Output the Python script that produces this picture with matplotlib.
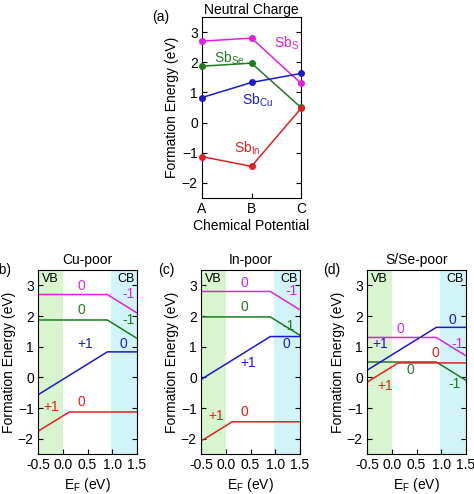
import matplotlib
matplotlib.use("Agg")
import matplotlib.pyplot as plt
import numpy as np

plt.rcParams['font.family'] = ['Liberation Sans', 'DejaVu Sans']
plt.rcParams['mathtext.fontset'] = 'custom'
plt.rcParams['mathtext.rm'] = 'Liberation Sans'

W, H = 474, 494
fig = plt.figure(figsize=(W/100, H/100), dpi=100)

def ax_px(l, t, r, b):
    return fig.add_axes([l/W, 1-b/H, (r-l)/W, (b-t)/H])

# Panel (a) data
chem = ['A', 'B', 'C']
sbS = [2.7, 2.8, 1.3]
sbSe = [1.87, 1.97, 0.5]
sbCu = [0.83, 1.33, 1.63]
sbIn = [-1.13, -1.45, 0.47]
cols = {'S': '#e020e0', 'Se': '#207a20', 'Cu': '#1a1acc', 'In': '#e02020'}

# Transition levels (eV)
trans_S, trans_Se, trans_Cu, trans_In = 0.9, 0.9, 0.9, 0.13

fs = 10
ax = ax_px(202, 17, 301, 198)
x = np.arange(3)
for v, c in [(sbS, cols['S']), (sbSe, cols['Se']), (sbCu, cols['Cu']), (sbIn, cols['In'])]:
    ax.plot(x, v, '-o', color=c, ms=4, lw=1.1, clip_on=False, zorder=3)
ax.set_xlim(0, 2); ax.set_ylim(-2.5, 3.5)
ax.set_xticks(x); ax.set_xticklabels(chem, fontsize=fs)
ax.set_yticks(range(-2, 4)); ax.tick_params(labelsize=fs, direction='in', right=True, top=False, pad=3)
ax.set_ylabel('Formation Energy (eV)', fontsize=fs, labelpad=2)
ax.set_xlabel('Chemical Potential', fontsize=fs, labelpad=2)
ax.set_title('Neutral Charge', fontsize=fs, pad=2)
ax.text(-0.33, 1.0, '(a)', transform=ax.transAxes, fontsize=fs, ha='right', va='center')
ax.text(1.45, 2.5, r'Sb$_{\rm S}$', color=cols['S'], fontsize=fs)
ax.text(0.25, 2.0, r'Sb$_{\rm Se}$', color=cols['Se'], fontsize=fs)
ax.text(0.8, 0.6, r'Sb$_{\rm Cu}$', color=cols['Cu'], fontsize=fs)
ax.text(0.65, -1.0, r'Sb$_{\rm In}$', color=cols['In'], fontsize=fs)

titles = ['Cu-poor', 'In-poor', 'S/Se-poor']
letters = ['(b)', '(c)', '(d)']
lefts = [38, 201, 367]
ef = np.linspace(-0.5, 1.5, 401)

def acc(e0, t):  # 0/-1 acceptor
    return np.where(ef < t, e0, e0 - (ef - t))
def don(e0, t):  # +1/0 donor
    return np.where(ef > t, e0, e0 + (ef - t))

labels = [
    [((0.3, 2.85), (1.2, 2.6)), ((0.3, 2.05), (1.2, 1.75)), ((0.3, 0.95), (1.15, 0.95)), ((-0.4, -1.1), (0.3, -0.95))],
    [((0.3, 2.95), (1.2, 2.7)), ((0.3, 2.15), (1.15, 1.55)), ((0.3, 0.35), (1.15, 0.95)), ((-0.35, -1.4), (0.3, -1.25))],
    [((0.1, 1.45), (1.2, 0.95)), ((0.3, 0.1), (1.15, -0.35)), ((-0.4, 0.95), (1.15, 1.75)), ((-0.3, -0.4), (0.8, 0.65))],
]

for i in range(3):
    a = ax_px(lefts[i], 270, lefts[i] + 99, 454)
    a.axvspan(-0.5, 0.0, color='#d8f5d0', lw=0, zorder=0)
    a.axvspan(0.97, 1.5, color='#d0f4f8', lw=0, zorder=0)
    vals = [sbS[i], sbSe[i], sbCu[i], sbIn[i]]
    a.plot(ef, acc(vals[0], trans_S), color=cols['S'], lw=1.1)
    a.plot(ef, acc(vals[1], trans_Se), color=cols['Se'], lw=1.1)
    a.plot(ef, don(vals[2], trans_Cu), color=cols['Cu'], lw=1.1)
    a.plot(ef, don(vals[3], trans_In), color=cols['In'], lw=1.1)
    a.set_xlim(-0.5, 1.5); a.set_ylim(-2.5, 3.5)
    a.set_xticks([-0.5, 0, 0.5, 1.0, 1.5]); a.set_xticklabels(['-0.5', '0.0', '0.5', '1.0', '1.5'])
    a.set_yticks(range(-2, 4))
    a.tick_params(labelsize=fs, direction='in', right=True, pad=3)
    a.set_xlabel(r'E$_{\rm F}$ (eV)', fontsize=fs, labelpad=3)
    a.set_ylabel('Formation Energy (eV)', fontsize=fs, labelpad=1)
    a.set_title(titles[i], fontsize=fs, pad=4)
    a.text(-0.27, 1.0, letters[i], transform=a.transAxes, fontsize=fs, ha='right', va='center')
    a.text(-0.42, 3.1, 'VB', fontsize=9)
    a.text(1.1, 3.1, 'CB', fontsize=9)
    txt = [('0', '-1'), ('0', '-1'), ('+1', '0'), ('+1', '0')]
    cl = [cols['S'], cols['Se'], cols['Cu'], cols['In']]
    for (p1, p2), (t1, t2), c in zip(labels[i], txt, cl):
        a.text(*p1, t1, color=c, fontsize=fs)
        a.text(*p2, t2, color=c, fontsize=fs)

fig.savefig('out.png', dpi=100)
